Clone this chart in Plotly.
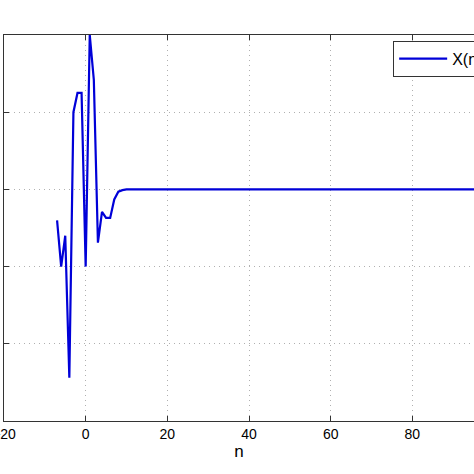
import plotly.graph_objects as go

# 序列取值，n=-7..10 的瞬态部分，之后稳定在 0
n_head = [-7, -6, -5, -4, -3, -2, -1, 0, 1, 2, 3, 4, 5, 6, 7, 8, 9, 10]
x_head = [-0.40, -1.00, -0.60, -2.44, 1.00, 1.25, 1.25, -1.00, 2.00, 1.42,
          -0.69, -0.29, -0.37, -0.37, -0.13, -0.03, -0.01, 0.00]
n_tail = list(range(11, 101))
x_tail = [0.0] * len(n_tail)

n_vals = n_head + n_tail
x_vals = x_head + x_tail

x_ticks = [-20, 0, 20, 40, 60, 80, 100]
y_ticks = [-3, -2, -1, 0, 1, 2]

fig = go.Figure()
fig.add_trace(go.Scatter(x=n_vals, y=x_vals, mode="lines", name="X(n)",
                         line=dict(color="#0000d8", width=2.2)))

fig.update_layout(
    width=474, height=474,
    plot_bgcolor="white", paper_bgcolor="white",
    margin=dict(l=4, r=0, t=35, b=53, autoexpand=False),
    font=dict(family="Liberation Sans, Arial, sans-serif", size=14, color="black"),
    showlegend=True,
    legend=dict(x=0.828, y=0.985, xanchor="left", yanchor="top",
                bordercolor="#333333", borderwidth=1, bgcolor="white",
                font=dict(size=16), itemwidth=48, tracegroupgap=0),
    xaxis=dict(range=[-20, 95.1], tickvals=x_ticks, showgrid=True,
               gridcolor="#b0b0b0", griddash="1px,4px", gridwidth=1,
               showline=True, linecolor="#333333", linewidth=1, mirror="ticks",
               ticks="inside", ticklen=5, tickcolor="#333333", zeroline=False,
               ticklabeloverflow="allow", automargin=False,
               title=dict(text="n", standoff=4)),
    yaxis=dict(range=[-3, 2], tickvals=y_ticks, showticklabels=False, showgrid=True,
               gridcolor="#b0b0b0", griddash="1px,4px", gridwidth=1,
               showline=True, linecolor="#333333", linewidth=1, mirror=False,
               ticks="inside", ticklen=5, tickcolor="#333333", zeroline=False,
               automargin=False),
)

# 页面默认有 8px 边距，去掉
fig.write_html("out.html", config={"displayModeBar": False},
               post_script="document.body.style.margin='0';")
